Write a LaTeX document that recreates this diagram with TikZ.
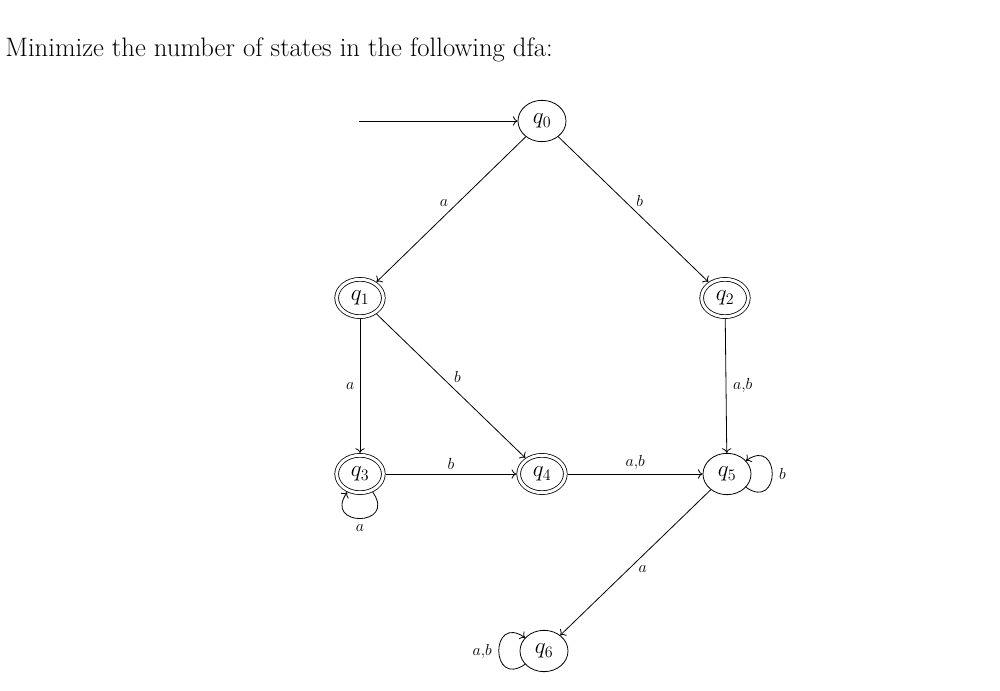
\documentclass[tikz,border=0pt]{standalone}
\usetikzlibrary{shapes.geometric,arrows.meta}
\begin{document}
\begin{tikzpicture}[x=0.75pt,y=-0.75pt,
  every path/.style={line width=0.6pt},
  >={To[length=3.5pt,width=7pt]},
  state/.style={ellipse,draw,minimum width=36pt,minimum height=31pt,inner sep=0pt,font=\fontsize{18}{20}\selectfont},
  accepting/.style={ellipse,draw,double,double distance=2.2pt,minimum width=35pt,minimum height=28pt,inner sep=0pt,outer sep=1.8pt,font=\fontsize{18}{20}\selectfont},
  trans/.style={->},
  selfloop/.style={->,looseness=1,min distance=32pt},
  lbl/.style={font=\fontsize{12}{14}\selectfont,inner sep=2pt}]
\useasboundingbox (0,0) rectangle (1000,691);
\node[anchor=base west,inner sep=0pt,font=\fontsize{20}{24}\selectfont] (title) at (5,57) {Minimize the number of states in the following dfa:};
\node[state] (q0) at (542,121) {$q_0$};
\node[accepting] (q1) at (360,298) {$q_1$};
\node[accepting] (q2) at (725,298) {$q_2$};
\node[accepting] (q3) at (360,474) {$q_3$};
\node[accepting] (q4) at (542,474) {$q_4$};
\node[state] (q5) at (727,474) {$q_5$};
\node[state] (q6) at (544,651) {$q_6$};
\coordinate (start) at (359,121);
\draw[trans] (start) -- (q0);
\draw[trans] (q0) -- node[lbl,above left,pos=0.5] {$a$} (q1);
\draw[trans] (q0) -- node[lbl,above right,pos=0.5] {$b$} (q2);
\draw[trans] (q1) -- node[lbl,left,xshift=-2pt] {$a$} (q3);
\draw[trans] (q1) -- node[lbl,above right] {$b$} (q4);
\draw[trans] (q2) -- node[lbl,right,xshift=3pt] {$a{,}b$} (q5);
\draw[trans] (q3) -- node[lbl,above,yshift=1pt] {$b$} (q4);
\draw[trans] (q4) -- node[lbl,above,yshift=1pt] {$a{,}b$} (q5);
\draw[trans] (q5) -- node[lbl,below right] {$a$} (q6);
\draw[selfloop] (q3) to[out=-55,in=-125] node[lbl,below,yshift=-2pt] {$a$} (q3);
\draw[selfloop] (q5) to[out=-35,in=35] node[lbl,right,xshift=3pt] {$b$} (q5);
\draw[selfloop] (q6) to[out=215,in=145] node[lbl,left,xshift=-3pt] {$a{,}b$} (q6);
\end{tikzpicture}
\end{document}
